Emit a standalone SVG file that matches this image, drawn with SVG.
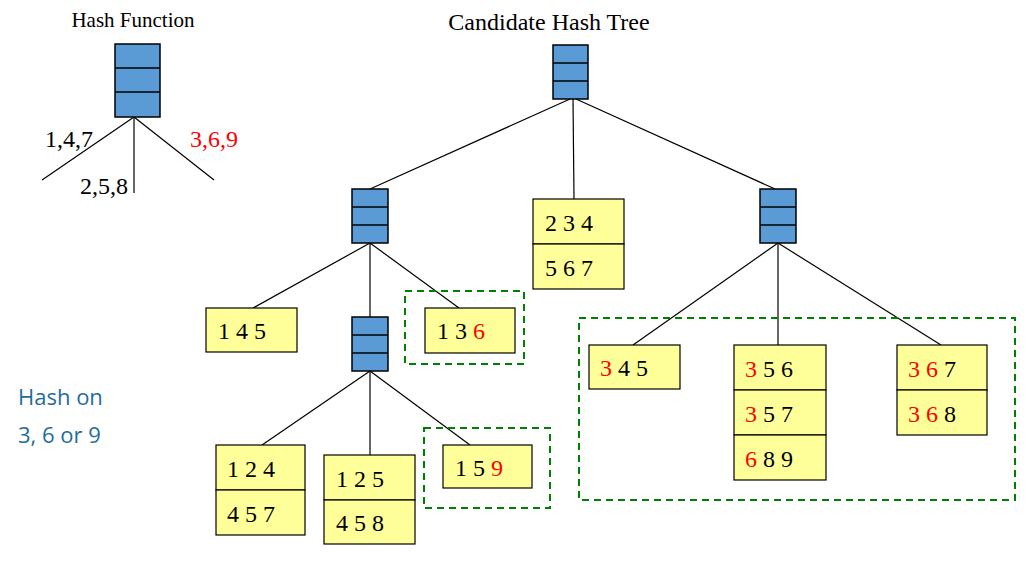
<svg xmlns="http://www.w3.org/2000/svg" width="1034" height="565" viewBox="0 0 1034 565">
<style>
.h{fill:#5b9bd5;stroke:#000;stroke-width:1.5}
.b{fill:#ffff99;stroke:#000;stroke-width:1.2}
.t{font-family:"Liberation Serif",serif;font-size:24px;fill:#000}
.r{fill:#ff0000}
.d{fill:none;stroke:#008000;stroke-width:2;stroke-dasharray:7,5}
.c line{stroke:#000;stroke-width:1.2}
</style>
<rect width="1034" height="565" fill="#fff"/>
<text x="133" y="27" text-anchor="middle" font-family="Liberation Serif,serif" font-size="21">Hash Function</text>
<text x="549" y="30" text-anchor="middle" font-family="Liberation Serif,serif" font-size="24">Candidate Hash Tree</text>
<g class="c" id="connectors">
<line x1="134" y1="117" x2="42" y2="180"/><line x1="134" y1="117" x2="134" y2="193"/><line x1="134" y1="117" x2="214" y2="180"/>
<line x1="570" y1="99" x2="370" y2="189"/><line x1="573" y1="99" x2="574" y2="199"/><line x1="576" y1="99" x2="775" y2="189"/>
<line x1="370" y1="243" x2="253" y2="308"/><line x1="370" y1="243" x2="370" y2="317"/><line x1="370" y1="243" x2="459" y2="308"/>
<line x1="778" y1="243" x2="633" y2="345"/><line x1="778" y1="243" x2="778" y2="345"/><line x1="778" y1="243" x2="941" y2="345"/>
<line x1="370" y1="371" x2="262" y2="445"/><line x1="370" y1="371" x2="370" y2="455"/><line x1="370" y1="371" x2="470" y2="445"/>
</g>
<g id="hashfn"><rect class="h" x="115" y="44" width="45" height="73"/><line x1="115" y1="68" x2="160" y2="68" stroke="#000" stroke-width="1.5"/><line x1="115" y1="92" x2="160" y2="92" stroke="#000" stroke-width="1.5"/>
<text class="t" x="45" y="147">1,4,7</text><text class="t" x="80" y="194">2,5,8</text><text class="t r" x="190" y="147">3,6,9</text></g>
<g id="root"><rect class="h" x="553" y="45" width="35" height="54"/><line x1="553" y1="63" x2="588" y2="63" stroke="#000" stroke-width="1.5"/><line x1="553" y1="81" x2="588" y2="81" stroke="#000" stroke-width="1.5"/></g>
<g id="hl"><rect class="h" x="352" y="189" width="36" height="54"/><line x1="352" y1="207" x2="388" y2="207" stroke="#000" stroke-width="1.5"/><line x1="352" y1="225" x2="388" y2="225" stroke="#000" stroke-width="1.5"/></g>
<g id="hr"><rect class="h" x="760" y="189" width="36" height="54"/><line x1="760" y1="207" x2="796" y2="207" stroke="#000" stroke-width="1.5"/><line x1="760" y1="225" x2="796" y2="225" stroke="#000" stroke-width="1.5"/></g>
<g id="hll"><rect class="h" x="352" y="317" width="36" height="54"/><line x1="352" y1="335" x2="388" y2="335" stroke="#000" stroke-width="1.5"/><line x1="352" y1="353" x2="388" y2="353" stroke="#000" stroke-width="1.5"/></g>
<g id="n234"><rect class="b" x="533" y="199" width="91" height="45"/><rect class="b" x="533" y="244" width="91" height="45"/><text class="t" x="545" y="231">2 3 4</text><text class="t" x="545" y="276">5 6 7</text></g>
<g id="n145"><rect class="b" x="206" y="308" width="91" height="44"/><text class="t" x="218" y="339">1 4 5</text></g>
<g id="n136"><rect class="d" x="405" y="291" width="119" height="73"/><rect class="b" x="425" y="308" width="90" height="45"/><text class="t" x="437" y="339">1 3 <tspan class="r">6</tspan></text></g>
<g id="n124"><rect class="b" x="216" y="445" width="89" height="45"/><rect class="b" x="216" y="490" width="89" height="45"/><text class="t" x="227" y="477">1 2 4</text><text class="t" x="227" y="522">4 5 7</text></g>
<g id="n125"><rect class="b" x="324" y="455" width="91" height="45"/><rect class="b" x="324" y="500" width="91" height="44"/><text class="t" x="336" y="487">1 2 5</text><text class="t" x="336" y="531">4 5 8</text></g>
<g id="n159"><rect class="d" x="424" y="428" width="126" height="80"/><rect class="b" x="443" y="445" width="89" height="43"/><text class="t" x="455" y="476">1 5 <tspan class="r">9</tspan></text></g>
<g id="grp"><rect class="d" x="579" y="318" width="436" height="182"/></g>
<g id="n345"><rect class="b" x="589" y="345" width="91" height="44"/><text class="t" x="600" y="376"><tspan class="r">3</tspan> 4 5</text></g>
<g id="n356"><rect class="b" x="734" y="345" width="92" height="45"/><rect class="b" x="734" y="390" width="92" height="45"/><rect class="b" x="734" y="435" width="92" height="45"/>
<text class="t" x="745" y="377"><tspan class="r">3</tspan> 5 6</text><text class="t" x="745" y="422"><tspan class="r">3</tspan> 5 7</text><text class="t" x="745" y="467"><tspan class="r">6</tspan> 8 9</text></g>
<g id="n367"><rect class="b" x="897" y="345" width="90" height="45"/><rect class="b" x="897" y="390" width="90" height="45"/><text class="t" x="908" y="377"><tspan class="r">3 6</tspan> 7</text><text class="t" x="908" y="422"><tspan class="r">3 6</tspan> 8</text></g>
<g id="note" font-family="Open Sans,sans-serif" font-size="22" fill="#1f6c9c"><text x="18" y="405">Hash on</text><text x="18" y="443">3, 6 or 9</text></g>
</svg>
